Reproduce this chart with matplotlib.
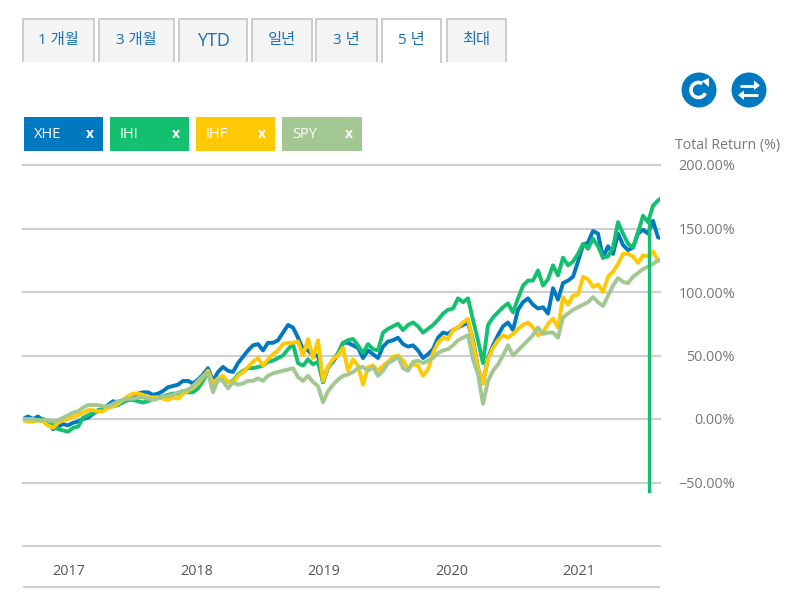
import numpy as np
import matplotlib
matplotlib.use('Agg')
import matplotlib.pyplot as plt
from matplotlib.patches import Rectangle, Circle, Arc, Polygon

plt.rcParams['font.family'] = ['Open Sans', 'Noto Sans CJK KR', 'DejaVu Sans']

############################# Data ############################################

# two week sampling
start_year = 2016.639
step_years = 5 / 127.5

xhe = [0, 2, 0, 2, -1, -3, -8, -6, -4, -5,
       -3, -2, 0, 1, 4, 7, 7, 11, 14, 13,
       14, 17, 16, 20, 21, 21, 19, 20, 22, 25,
       26, 27, 30, 30, 28, 31, 35, 40, 30, 37,
       41, 38, 37, 44, 49, 54, 58, 59, 54, 60,
       60, 62, 68, 74, 72, 64, 55, 54, 50, 50,
       29, 41, 45, 51, 60, 60, 58, 56, 48, 54,
       51, 48, 57, 61, 62, 64, 59, 57, 58, 54,
       48, 51, 55, 64, 68, 67, 70, 72, 74, 76,
       62, 40, 28, 48, 58, 66, 73, 76, 70, 86,
       92, 95, 90, 87, 88, 83, 103, 94, 107, 109,
       112, 124, 137, 139, 148, 146, 127, 136, 130, 146,
       137, 133, 135, 146, 149, 146, 156, 143, 142]

ihi = [0, 0, -1, -1, 0, -2, -4, -8, -9, -10,
       -7, -6, 1, 3, 5, 6, 9, 9, 10, 11,
       13, 15, 15, 14, 13, 14, 16, 17, 18, 19,
       20, 20, 22, 21, 21, 24, 30, 38, 26, 31,
       33, 29, 30, 35, 38, 40, 40, 41, 42, 45,
       46, 48, 50, 55, 59, 44, 42, 47, 43, 45,
       29, 40, 46, 52, 60, 62, 63, 58, 52, 59,
       55, 54, 68, 71, 73, 75, 70, 74, 76, 73,
       68, 71, 74, 78, 83, 86, 87, 95, 92, 95,
       78, 62, 44, 74, 80, 84, 88, 91, 84, 95,
       105, 109, 109, 117, 105, 110, 121, 113, 127, 121,
       124, 130, 138, 134, 142, 136, 127, 128, 135, 155,
       146, 138, 135, 147, 160, 155, 168, 172, 175]

# the one day drop of IHI in summer 2021
ihi_drop_dates = [2021.549, 2021.549]
ihi_drop_values = [158, -57]

ihf = [-1, -2, -2, -1, -2, -5, -7, -3, -1, 0,
       2, 3, 5, 7, 7, 6, 6, 9, 10, 12,
       15, 18, 20, 20, 19, 17, 17, 17, 16, 15,
       17, 16, 20, 22, 25, 28, 33, 38, 28, 32,
       34, 29, 29, 34, 37, 41, 45, 48, 42, 47,
       51, 54, 59, 60, 60, 61, 50, 63, 48, 62,
       30, 41, 47, 50, 56, 38, 47, 42, 27, 41,
       42, 38, 42, 45, 49, 50, 46, 40, 43, 42,
       34, 39, 52, 60, 64, 63, 70, 72, 76, 79,
       60, 40, 28, 47, 56, 62, 66, 64, 67, 71,
       74, 76, 72, 66, 68, 75, 79, 72, 96, 90,
       97, 98, 112, 110, 104, 106, 100, 112, 116, 122,
       130, 130, 128, 123, 129, 128, 132, 125, 124]

spy = [0, 0, 0, -1, -1, -1, -2, -1, 1, 3,
       5, 6, 9, 11, 11, 11, 10, 10, 12, 14,
       15, 16, 16, 17, 17, 16, 15, 16, 18, 18,
       19, 21, 22, 23, 26, 30, 34, 36, 21, 31,
       30, 24, 29, 27, 28, 30, 30, 32, 30, 34,
       36, 37, 38, 39, 40, 33, 30, 34, 29, 26,
       13, 22, 27, 31, 34, 35, 37, 40, 41, 38,
       41, 34, 38, 44, 46, 49, 40, 38, 45, 46,
       44, 46, 48, 52, 54, 55, 58, 62, 64, 66,
       47, 35, 12, 30, 38, 43, 50, 58, 50, 54,
       58, 62, 66, 72, 67, 68, 68, 64, 80, 83,
       86, 88, 90, 92, 96, 92, 89, 97, 105, 111,
       108, 107, 112, 115, 118, 120, 122, 125, 126]

year_ticks = [2017, 2018, 2019, 2020, 2021]
y_ticks = [-100, -50, 0, 50, 100, 150, 200]
y_labels = ['', '\u221250.00%', '0.00%', '50.00%', '100.00%', '150.00%', '200.00%']

tab_labels = ['1 개월', '3 개월', 'YTD', '일년', '3 년', '5 년', '최대']
tab_left = [23, 99, 179, 252, 316, 382, 447]
tab_right = [94, 174, 247, 312, 377, 441, 506]
tab_sizes = [11, 11, 13, 11, 11, 11, 11]
active_tab = 5

chip_labels = ['XHE', 'IHI', 'IHF', 'SPY']
chip_left = [24, 110, 196, 282]
chip_right = [103, 189, 275, 362]

BLUE = '#0079c1'
GREEN = '#14c06f'
YELLOW = '#ffc905'
SAGE = '#a3c792'
chip_colors = [BLUE, GREEN, YELLOW, SAGE]
GRID = '#cfcfcf'
LINK = '#1a6fb0'
GRAY = '#777777'
LINE_W = 2.8

################################ Plotting #####################################

fig = plt.figure(figsize=(8, 5.97), dpi=100)

# page furniture is laid out in pixels on a full size axes
ui = fig.add_axes([0, 0, 1, 1], zorder=0)
ui.set_xlim(0, 800)
ui.set_ylim(597, 0)
ui.axis('off')

for i, label in enumerate(tab_labels):
    left, right = tab_left[i], tab_right[i]
    bottom = 63 if i == active_tab else 62
    face = 'white' if i == active_tab else '#f4f4f4'
    ui.add_patch(Rectangle((left, 19), right - left, bottom - 19, fc=face, ec='none'))
    ui.plot([left, left, right, right], [bottom, 19, 19, bottom], color='#cccccc',
            lw=1.4, solid_joinstyle='miter', solid_capstyle='butt')
    ui.text((left + right) / 2, 40.5, label, color=LINK, fontsize=tab_sizes[i],
            ha='center', va='center')

for i, label in enumerate(chip_labels):
    left, right = chip_left[i], chip_right[i]
    ui.add_patch(Rectangle((left, 117), right - left, 34, fc=chip_colors[i], ec='none'))
    ui.text(left + 10, 134.5, label, color='white', fontsize=10.5, ha='left', va='center')
    ui.text(right - 13, 134, 'x', color='white', fontsize=10, fontweight='bold',
            ha='center', va='center')

# refresh button
ui.add_patch(Circle((699, 90), 17.5, fc=BLUE, ec='none'))
ui.add_patch(Arc((698.5, 90), 15, 15, theta1=25, theta2=300, color='white', lw=2.6))
ui.add_patch(Polygon([[702, 81], [709, 78], [709, 87]], fc='white', ec='none'))

# swap button
ui.add_patch(Circle((749, 90), 17.5, fc=BLUE, ec='none'))
ui.plot([740, 755], [85.5, 85.5], color='white', lw=2, solid_capstyle='butt')
ui.add_patch(Polygon([[754, 80.5], [760, 85.5], [754, 90]], fc='white', ec='none'))
ui.plot([743, 758], [95, 95], color='white', lw=2, solid_capstyle='butt')
ui.add_patch(Polygon([[744, 90.5], [738, 95], [744, 100]], fc='white', ec='none'))

ui.text(675, 145, 'Total Return (%)', color=GRAY, fontsize=10.2, ha='left', va='center')
ui.plot([23, 660], [587, 587], color=GRID, lw=1.5, solid_capstyle='butt')

ax = fig.add_axes([23 / 800, (597 - 546) / 597, 637 / 800, 381 / 597], zorder=1)
ax.patch.set_alpha(0)

dates = start_year + step_years * np.arange(len(xhe))

ax.plot(dates, xhe, color=BLUE, lw=LINE_W, zorder=3)
ax.plot(dates, ihi, color=GREEN, lw=LINE_W, zorder=4)
ax.plot(dates, ihf, color=YELLOW, lw=LINE_W, zorder=5)
ax.plot(dates, spy, color=SAGE, lw=LINE_W, zorder=6)
# the drop sits on top of everything else
ax.plot(ihi_drop_dates, ihi_drop_values, color=GREEN, lw=2.4, zorder=7)

ax.set_xlim(start_year, start_year + 637 / 127.5)
ax.set_ylim(-100, 200)

ax.set_xticks(year_ticks)
ax.set_xticklabels([str(y) for y in year_ticks])
ax.tick_params(axis='x', length=0, pad=13, labelsize=10.4, labelcolor='#555555')

ax.yaxis.tick_right()
ax.set_yticks(y_ticks)
ax.set_yticklabels(y_labels, ha='right')
ax.tick_params(axis='y', length=0, pad=54, labelsize=10.4, labelcolor=GRAY)

ax.grid(axis='y', color=GRID, lw=1.5, clip_on=False, zorder=1)
ax.set_axisbelow(True)
for spine in ax.spines.values():
    spine.set_visible(False)

plt.savefig('out.png', dpi=100)
